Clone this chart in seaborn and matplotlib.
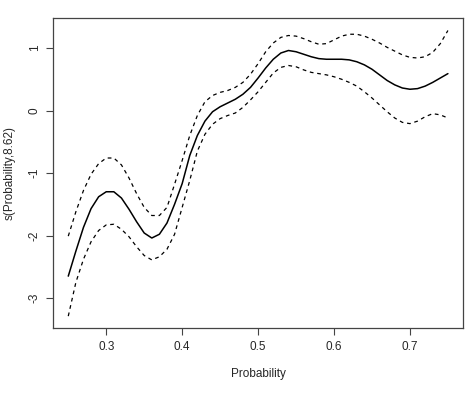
import numpy as np
import pandas as pd
import matplotlib
matplotlib.use("Agg")
import matplotlib.pyplot as plt
import seaborn as sns

# values (x step 0.01)
probability = [0.25, 0.26, 0.27, 0.28, 0.29, 0.30, 0.31, 0.32, 0.33, 0.34,
               0.35, 0.36, 0.37, 0.38, 0.39, 0.40, 0.41, 0.42, 0.43, 0.44,
               0.45, 0.46, 0.47, 0.48, 0.49, 0.50, 0.51, 0.52, 0.53, 0.54,
               0.55, 0.56, 0.57, 0.58, 0.59, 0.60, 0.61, 0.62, 0.63, 0.64,
               0.65, 0.66, 0.67, 0.68, 0.69, 0.70, 0.71, 0.72, 0.73, 0.74, 0.75]

fit = [-2.65, -2.25, -1.87, -1.57, -1.38, -1.30, -1.30, -1.40, -1.58, -1.78,
       -1.96, -2.04, -1.98, -1.80, -1.50, -1.17, -0.72, -0.40, -0.17, -0.02,
       0.06, 0.12, 0.18, 0.26, 0.37, 0.52, 0.68, 0.82, 0.92, 0.96,
       0.94, 0.90, 0.86, 0.83, 0.82, 0.82, 0.82, 0.81, 0.78, 0.73,
       0.66, 0.57, 0.48, 0.41, 0.36, 0.34, 0.35, 0.39, 0.45, 0.52, 0.59]

upper = [-2.01, -1.62, -1.28, -1.02, -0.85, -0.76, -0.76, -0.87, -1.08, -1.33,
         -1.55, -1.68, -1.68, -1.55, -1.18, -0.80, -0.40, -0.08, 0.14, 0.24,
         0.29, 0.32, 0.37, 0.45, 0.58, 0.75, 0.94, 1.08, 1.17, 1.20,
         1.19, 1.15, 1.10, 1.06, 1.07, 1.13, 1.19, 1.22, 1.22, 1.19,
         1.14, 1.08, 1.01, 0.95, 0.89, 0.85, 0.84, 0.86, 0.93, 1.07, 1.28]

lower = [-3.29, -2.75, -2.38, -2.10, -1.92, -1.83, -1.82, -1.90, -2.02, -2.18,
         -2.32, -2.39, -2.34, -2.22, -1.98, -1.55, -1.12, -0.65, -0.38, -0.22,
         -0.13, -0.08, -0.04, 0.05, 0.17, 0.30, 0.45, 0.60, 0.69, 0.72,
         0.70, 0.65, 0.61, 0.59, 0.57, 0.54, 0.50, 0.45, 0.39, 0.30,
         0.20, 0.09, -0.02, -0.12, -0.19, -0.21, -0.17, -0.10, -0.05, -0.07, -0.12]

x_ticks = [0.3, 0.4, 0.5, 0.6, 0.7]
y_ticks = [-3, -2, -1, 0, 1]

df = pd.DataFrame({"Probability": probability, "fit": fit,
                   "upper": upper, "lower": lower})

sns.set_style("white")
plt.rcParams["font.family"] = ["Liberation Sans", "DejaVu Sans"]

fig = plt.figure(figsize=(4.74, 4.09), dpi=100)
ax = fig.add_axes([0.112, 0.198, 0.865, 0.758])

sns.lineplot(data=df, x="Probability", y="fit", ax=ax, color="black", lw=1.1)
for col in ["upper", "lower"]:
    sns.lineplot(data=df, x="Probability", y=col, ax=ax, color="black",
                 lw=0.9, linestyle=(0, (3, 3)))

# R style: 4% padding, box, outward ticks
ax.set_xlim(0.23, 0.77)
ax.set_ylim(-3.48, 1.48)
ax.set_xticks(x_ticks)
ax.set_xticklabels([str(t) for t in x_ticks])
ax.set_yticks(y_ticks)
ax.set_yticklabels([str(t) for t in y_ticks], rotation=90, va="center")
ax.tick_params(axis="both", direction="out", length=5, width=0.8,
               color="#444444", labelsize=8.5, pad=4, left=True, bottom=True)
for sp in ax.spines.values():
    sp.set_color("#444444")
    sp.set_linewidth(0.9)

ax.set_xlabel("Probability", fontsize=8.5, labelpad=11)
ax.set_ylabel("s(Probability,8.62)", fontsize=8.5, labelpad=9)

fig.savefig("out.png", dpi=100)
